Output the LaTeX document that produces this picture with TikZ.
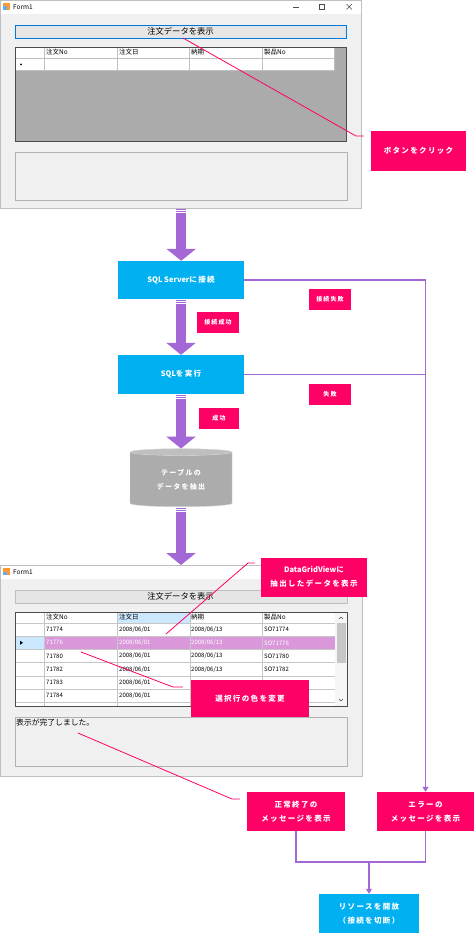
\documentclass[tikz,border=0pt]{standalone}
\usepackage{fontspec}
\newfontfamily\jp{Noto Sans CJK JP}
\newfontfamily\jpw[LetterSpace=18]{Noto Sans CJK JP}
\usetikzlibrary{arrows.meta, positioning, shapes.geometric, calc}
\definecolor{FlowBlue}{RGB}{0,176,240}
\definecolor{CallPink}{RGB}{255,0,102}
\definecolor{FlowPurple}{RGB}{164,104,214}
\definecolor{FormGray}{RGB}{240,240,240}
\definecolor{GridGray}{RGB}{171,171,171}
\definecolor{SelRow}{RGB}{218,152,218}
\definecolor{SelBlue}{RGB}{204,232,255}
\definecolor{BtnBlue}{RGB}{0,120,215}

\tikzset{
  flowbox/.style={fill=FlowBlue, text=white, font=\jpw\bfseries\fontsize{7.5}{14}\selectfont,
    minimum width=126pt, minimum height=38pt, align=center, inner sep=0pt},
  callbox/.style={fill=CallPink, text=white, font=\jpw\bfseries\fontsize{7.5}{14}\selectfont,
    align=center, inner sep=0pt},
  taglabel/.style={fill=CallPink, text=white, font=\jpw\bfseries\fontsize{6}{8}\selectfont,
    minimum width=42pt, minimum height=21pt, inner sep=0pt},
  dbcyl/.style={cylinder, shape border rotate=90, aspect=0.14, draw=gray!35,
    cylinder uses custom fill, cylinder body fill=gray!65, cylinder end fill=gray!50,
    minimum width=102pt, minimum height=58pt, inner sep=0pt, align=center,
    text=white, font=\jpw\bfseries\fontsize{7}{14}\selectfont},
  flow/.style={draw=FlowPurple, line width=1.5pt},
  flowtip/.style={-{Triangle[width=6pt,length=5pt]}},
  bigarrow/.style={draw=FlowPurple, line width=10pt, -{Triangle[width=29pt,length=12pt]}},
  callline/.style={draw=CallPink, line width=0.8pt},
  formbox/.style={minimum width=362pt, anchor=north west, inner sep=0pt},
  celltext/.style={font=\jp\fontsize{6}{6}\selectfont, anchor=west, inner sep=0pt},
  headtext/.style={font=\jp\fontsize{6.5}{6.5}\selectfont, anchor=west, inner sep=0pt},
}

\begin{document}
\begin{tikzpicture}[x=1pt, y=-1pt]
  \useasboundingbox (0,0) rectangle (474,933);
  \fill[white] (0,0) rectangle (474,933);

  % first form (before the click)
  \node[formbox, minimum height=208pt] (form1) at (0,0) {};
  \fill[FormGray] (0,0) rectangle (362,208);
  \fill[white] (0,0) rectangle (362,14);
  \draw[gray!50] (0.3,0.3) rectangle (361.5,208);
  \fill[orange!80] (3,3) rectangle (10,10);
  \fill[BtnBlue!60] (3,6.5) rectangle (6.5,10);
  \node[headtext] (title1) at (13,7) {Form1};
  \draw[black!70, line width=0.6pt] (293,7.5) -- (299,7.5);
  \draw[black!70, line width=0.6pt] (319,4) rectangle (324.5,9.5);
  \draw[black!70, line width=0.6pt] (346.5,4) -- (352,9.5) (346.5,9.5) -- (352,4);
  \draw[BtnBlue, fill=gray!20] (15,25) rectangle (346,38);
  \node[font=\jp\fontsize{8.3}{9}\selectfont, inner sep=0pt] (btn1) at (180.5,31.5) {注文データを表示};
  \fill[GridGray] (15,47) rectangle (346,141);
  \foreach \xa/\xb in {15/44, 44/117, 117/189, 189/262, 262/334}
    \foreach \ya/\yb in {47/58, 58/70}
      \draw[gray!50, fill=white] (\xa,\ya) rectangle (\xb,\yb);
  \draw[gray!60!black, line width=0.8pt] (15,47) rectangle (346,141);
  \foreach \x/\h in {46/注文No, 119/注文日, 191/納期, 264/製品No}
    \node[headtext] at (\x,52.5) {\h};
  \fill[black] (21,64.5) circle (1pt);
  \draw[gray!60, fill=FormGray] (15,152) rectangle (347,200);

  % second form (after the data is shown)
  \node[formbox, minimum width=363pt, minimum height=211pt] (form2) at (0,565) {};
  \fill[FormGray] (0,565) rectangle (363,776);
  \fill[white] (0,565) rectangle (363,579);
  \draw[gray!50] (0.3,565) rectangle (362.5,776);
  \fill[orange!80] (3,568) rectangle (10,575);
  \fill[BtnBlue!60] (3,571.5) rectangle (6.5,575);
  \node[headtext] (title2) at (13,572) {Form1};
  \draw[gray!50, fill=gray!20] (15,590) rectangle (347,603);
  \node[font=\jp\fontsize{8.3}{9}\selectfont, inner sep=0pt] (btn2) at (180.5,596.5) {注文データを表示};
  \fill[white] (15,612) rectangle (335,706);
  \fill[SelBlue] (117,612) rectangle (190,623);
  \fill[SelRow] (44,636.2) rectangle (335,649.4);
  \fill[SelBlue] (15,636.2) rectangle (44,649.4);
  \foreach \y in {623, 636.2, 649.4, 662.6, 675.8, 689, 702.2}
    \draw[gray!45] (15,\y) -- (335,\y);
  \foreach \x in {44, 117, 190, 262, 335}
    \draw[gray!45] (\x,612) -- (\x,706);
  \foreach \x/\h in {46/注文No, 119/注文日, 191/納期, 264/製品No}
    \node[headtext] at (\x,617.5) {\h};
  \foreach \no/\show [count=\i] in {71774/1, 71776/1, 71780/1, 71782/1, 71783/0, 71784/0} {
    \pgfmathsetmacro\ry{623+(\i-0.5)*13.2}
    \ifnum\i=2 \def\tc{white}\else\def\tc{black}\fi
    \node[celltext, text=\tc] at (46,\ry) {\no};
    \node[celltext, text=\tc] at (119,\ry) {2008/06/01};
    \ifnum\show=1
      \node[celltext, text=\tc] at (191,\ry) {2008/06/13};
      \node[celltext, text=\tc] at (264,\ry) {SO\no};
    \fi
  }
  \fill[black] (20,640.8) -- (23,642.8) -- (20,644.8) -- cycle;
  % scroll bar
  \fill[gray!8] (335,612) rectangle (347,706);
  \fill[gray!45] (336.5,623) rectangle (345.5,663);
  \draw[black!70, line width=0.5pt] (339,619) -- (341,617) -- (343,619);
  \draw[black!70, line width=0.5pt] (339,699) -- (341,701) -- (343,699);
  \draw[gray!60!black, line width=0.8pt] (15,612) rectangle (347,706);
  \draw[gray!60, fill=FormGray] (15,717) rectangle (347,766);
  \node[font=\jp\fontsize{7.8}{8}\selectfont, anchor=north west, inner sep=0pt] (donemsg) at (16,719) {表示が完了しました。};

  % flow boxes
  \node[flowbox] (sqlconn) at (181,280) {{\jp\bfseries SQL Server}に接続};
  \node[flowbox, minimum height=39pt] (sqlexec) at (181,374.5) {{\jp\bfseries SQL}を実行};
  \node[dbcyl] (extract) at (181,479.5) {テーブルの\\データを抽出};
  \node[flowbox, minimum width=100pt, minimum height=39pt] (release) at (369,913.5) {リソースを開放\\（接続を切断）};

  % labels on the flow
  \node[taglabel] (lbconnok) at (218,322.5) {接続成功};
  \node[taglabel] (lbconnng) at (330,299.5) {接続失敗};
  \node[taglabel] (lbng) at (330,394.5) {失敗};
  \node[taglabel, minimum width=40pt] (lbok) at (219,418.5) {成功};

  % big arrows down the middle
  \foreach \a/\b in {form1/sqlconn, sqlconn/sqlexec, sqlexec/extract, extract/form2} {
    \draw[bigarrow] ([yshift=-1pt]\a.south) -- (\a.south |- \b.north);
    \draw[white, line width=0.8pt] ([xshift=-6pt, yshift=-2.5pt]\a.south) -- ++(12,0);
    \draw[white, line width=0.8pt] ([xshift=-6pt, yshift=-4.5pt]\a.south) -- ++(12,0);
  }

  % callout lines
  \coordinate (btnpt) at (183,38);
  \coordinate (btnkink) at (356,136);
  \coordinate (gridpt) at (166,634);
  \coordinate (gridkink) at (248,563);
  \coordinate (rowpt) at (81,652);
  \coordinate (rowkink) at (173,687);
  \coordinate (msgpt) at (78,733);
  \coordinate (msgkink) at (232,799);

  % callouts
  \node[callbox, minimum width=95pt, minimum height=40pt] (cbtn) at (418.5,151) {ボタンをクリック};
  \node[callbox, minimum width=106pt, minimum height=39pt] (cgrid) at (314,577) {{\jp\bfseries DataGridView}に\\抽出したデータを表示};
  \node[callbox, minimum width=118pt, minimum height=37pt] (crow) at (250,698.5) {選択行の色を変更};
  \node[callbox, minimum width=98pt, minimum height=39pt] (okmsg) at (296,811.5) {正常終了の\\メッセージを表示};
  \node[callbox, minimum width=97pt, minimum height=39pt] (errmsg) at (425.5,811.5) {エラーの\\メッセージを表示};

  \draw[callline, shorten >=7pt] (btnpt) -- (btnkink) -- (btnkink -| cbtn.west);
  \draw[callline, shorten >=6pt] (gridpt) -- (gridkink) -- (gridkink -| cgrid.west);
  \draw[callline, shorten >=8pt] (rowpt) -- (rowkink) -- (rowkink -| crow.west);
  \draw[callline, shorten >=7pt] (msgpt) -- (msgkink) -- (msgkink -| okmsg.west);

  % error and end paths
  \draw[flow, flowtip] (sqlconn.east) -| (errmsg.north);
  \draw[flow] (sqlexec.east) -- (sqlexec.east -| errmsg.north);
  \coordinate (merge) at (release.north |- 0,862);
  \draw[flow] (okmsg.south) |- (merge) -| (errmsg.south);
  \draw[flow, flowtip] (merge) -- (release.north);
\end{tikzpicture}
\end{document}
